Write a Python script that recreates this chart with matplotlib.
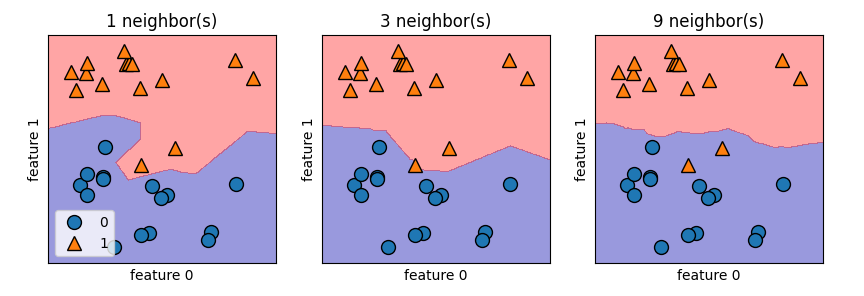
import numpy as np
import matplotlib
matplotlib.use("Agg")
from matplotlib import pyplot as plt
from matplotlib.colors import ListedColormap

# forge-like data
feature0 = [9.963, 11.033, 11.542, 8.693, 8.106, 8.310, 11.930, 9.673,
            8.348, 8.675, 9.177, 10.240, 8.689, 8.922, 9.491, 9.257,
            7.998, 8.184, 8.734, 9.323, 10.064, 9.500, 8.345, 9.502,
            9.151, 11.564, 8.342, 9.748, 9.943, 10.960]
feature1 = [4.597, -0.168, 5.211, 1.543, 4.287, 4.806, 4.649, -0.203,
            5.134, 4.476, 5.093, 2.455, 1.487, -0.640, 4.332, 5.133,
            4.853, 1.296, 2.492, 5.098, 0.991, -0.264, 1.638, 1.938,
            5.498, 1.339, 0.989, 1.270, 0.895, -0.420]
labels = [1, 0, 1, 0, 1, 1, 1, 0,
          1, 1, 1, 1, 0, 0, 1, 1,
          1, 0, 0, 1, 0, 0, 0, 1,
          1, 0, 0, 0, 0, 0]
neighbors = [1, 3, 9]

X = np.column_stack([feature0, feature1])
y = np.array(labels)


def knn_predict(X_train, y_train, X_query, k):
    out = np.empty(len(X_query), dtype=int)
    for start in range(0, len(X_query), 20000):
        q = X_query[start:start + 20000]
        d = ((q[:, None, :] - X_train[None, :, :]) ** 2).sum(axis=2)
        idx = np.argsort(d, axis=1, kind="stable")[:, :k]
        votes = y_train[idx].mean(axis=1)
        out[start:start + 20000] = (votes > 0.5).astype(int)
    return out


eps = 0.5
x_min, x_max = X[:, 0].min() - eps, X[:, 0].max() + eps
y_min, y_max = X[:, 1].min() - eps, X[:, 1].max() + eps
xx = np.linspace(x_min, x_max, 500)
yy = np.linspace(y_min, y_max, 500)
X1, X2 = np.meshgrid(xx, yy)
grid = np.c_[X1.ravel(), X2.ravel()]

cm2 = ListedColormap(['#0000aa', '#ff2020'])
colors = ['#1f77b4', '#ff7f0e']
markers = ['o', '^']

fig = plt.figure(figsize=(8.64, 2.96), dpi=100)
lefts = [48, 322, 595]
for n, left in zip(neighbors, lefts):
    ax = fig.add_axes([left / 864, 33 / 296, 228 / 864, 228 / 296])
    pred = knn_predict(X, y, grid, n).reshape(X1.shape)
    ax.contourf(X1, X2, pred, levels=[0, 0.5, 1], alpha=0.4, cmap=cm2)
    for c in [0, 1]:
        mask = y == c
        ax.plot(X[mask, 0], X[mask, 1], markers[c], markersize=10,
                color=colors[c], markeredgewidth=1, markeredgecolor='k',
                label=str(c))
    ax.set_xlim(x_min, x_max)
    ax.set_ylim(y_min, y_max)
    ax.set_xticks(())
    ax.set_yticks(())
    ax.set_title("{} neighbor(s)".format(n))
    ax.set_xlabel("feature 0")
    ax.set_ylabel("feature 1")
    if n == 1:
        ax.legend(loc=3)

fig.savefig("out.png", dpi=100)
